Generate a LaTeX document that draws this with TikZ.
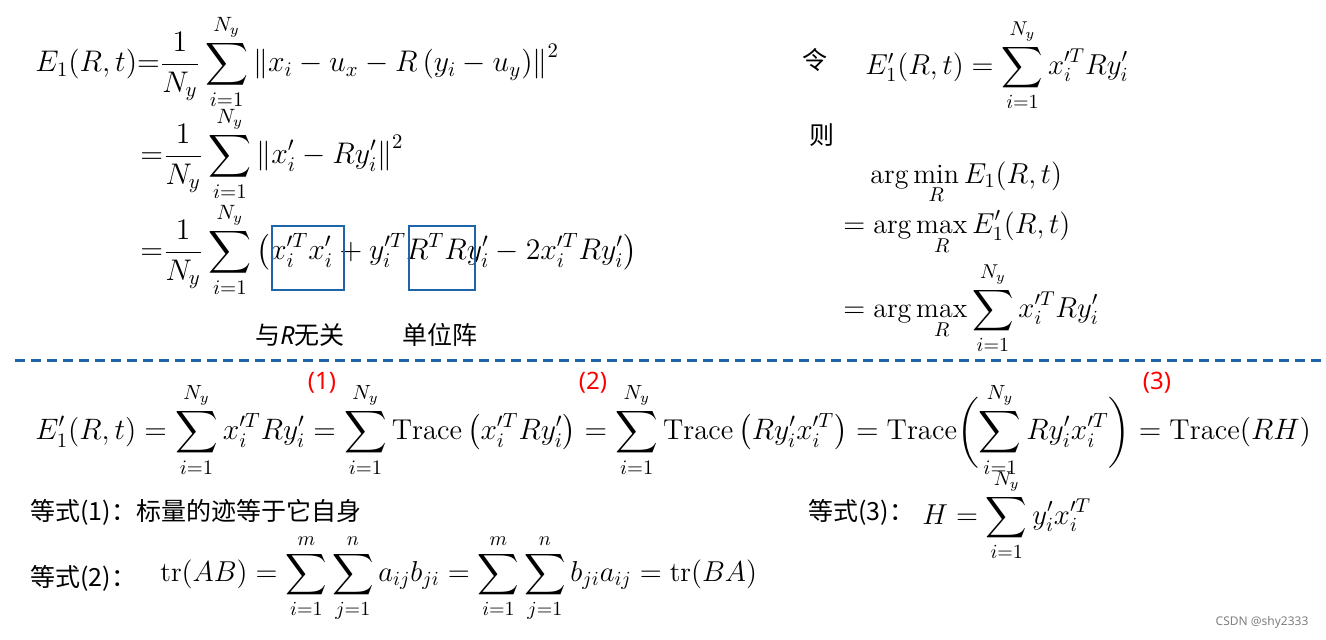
\documentclass[tikz,border=0pt]{standalone}
\usepackage{amsmath}
\usepackage{graphicx}
\usepackage{fontspec}
\newfontfamily\cjk{Noto Sans CJK SC}
\newfontfamily\sans{Noto Sans}
\definecolor{bblue}{RGB}{30,100,170}
\newcommand{\sbA}[1]{\scalebox{1.035}{#1}}
\newcommand{\sbB}[1]{\scalebox{1.026}{#1}}
\begin{document}
\begin{tikzpicture}[x=0.5pt,y=-0.5pt,
  eq/.style={inner sep=0pt,anchor=west,font=\fontsize{14}{17}\selectfont},
  zh/.style={inner sep=0pt,font=\cjk\fontsize{12.5}{15}\selectfont},
  red/.style={inner sep=0pt,text=red,font=\sans\fontsize{12}{14}\selectfont},
  bx/.style={draw=bblue,line width=1pt}]
\useasboundingbox (0,0) rectangle (1326,639);
\fill[white] (0,0) rectangle (1326,639);
% top left
\node[eq] (l1) at (35,62) {\sbA{$E_1(R,t) {=}\dfrac{1}{N_y}\displaystyle\sum_{i=1}^{N_y}\left\|x_i-u_x-R\left(y_i-u_y\right)\right\|^2$}};
\node[eq] (l2) at (140,154) {\sbA{${=}\dfrac{1}{N_y}\displaystyle\sum_{i=1}^{N_y}\left\|x_i'-Ry_i'\right\|^2$}};
\node[eq] (l3) at (140,250) {\sbA{${=}\dfrac{1}{N_y}\displaystyle\sum_{i=1}^{N_y}\left(x_i'^Tx_i'+y_i'^TR^TRy_i'-2x_i'^TRy_i'\right)$}};
\draw[bx] (272,226) rectangle (344,290);
\draw[bx] (409,226) rectangle (475,290);
\node[zh] (n1) at (300,335) {与{\sans\itshape R}无关};
\node[zh] (n2) at (440,335) {单位阵};
% top right
\node[zh] (ling) at (815,60) {令};
\node[eq] (r1) at (865,65) {$E_1'(R,t)=\displaystyle\sum_{i=1}^{N_y}x_i'^TRy_i'$};
\node[zh] (ze) at (822,135) {则};
\node[eq] (r2) at (870,183) {$\displaystyle\arg\min_R E_1(R,t)$};
\node[eq] (r3) at (843,233) {$\displaystyle=\arg\max_R E_1'(R,t)$};
\node[eq] (r4) at (843,308) {$\displaystyle=\arg\max_R \sum_{i=1}^{N_y}x_i'^TRy_i'$};
% dashed line
\coordinate (d1) at (15,360); \coordinate (d2) at (1326,360);
\draw[bblue,line width=1.5pt,dash pattern=on 5pt off 3pt] (d1) -- (d2);
% bottom
\node[eq] (b1) at (35,430) {\sbB{$\displaystyle E_1'(R,t)=\sum_{i=1}^{N_y}x_i'^TRy_i'=\sum_{i=1}^{N_y}\operatorname{Trace}\left(x_i'^TRy_i'\right)=\sum_{i=1}^{N_y}\operatorname{Trace}\left(Ry_i'x_i'^T\right)=\operatorname{Trace}\biggl(\sum_{i=1}^{N_y}Ry_i'x_i'^T\biggr)=\operatorname{Trace}(RH)$}};
\node[red] (k1) at (322,383) {(1)};
\node[red] (k2) at (593,383) {(2)};
\node[red] (k3) at (1157,383) {(3)};
\node[zh,anchor=west] (e1) at (30,512) {等式(1)：标量的迹等于它自身};
\node[zh,anchor=west] (e2) at (30,578) {等式(2)：};
\node[eq] (m2) at (160,578) {$\displaystyle\operatorname{tr}(AB)=\sum_{i=1}^{m}\sum_{j=1}^{n}a_{ij}b_{ji}=\sum_{i=1}^{m}\sum_{j=1}^{n}b_{ji}a_{ij}=\operatorname{tr}(BA)$};
\node[zh,anchor=west] (e3) at (808,512) {等式(3)：};
\node[eq] (m3) at (922,515) {$\displaystyle H=\sum_{i=1}^{N_y}y_i'x_i'^T$};
\node[inner sep=0pt,text=gray,font=\sans\fontsize{6}{7}\selectfont] (wm) at (1262,622) {CSDN @shy2333};
\end{tikzpicture}
\end{document}
